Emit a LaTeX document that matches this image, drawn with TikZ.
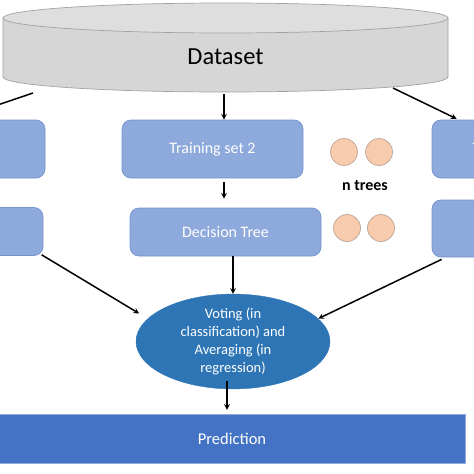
\documentclass[tikz,border=0pt]{standalone}
\usepackage{fontspec}
\setmainfont{Carlito}
\usetikzlibrary{positioning, shapes.geometric}

\definecolor{boxfill}{HTML}{8EA9DB}
\definecolor{boxline}{HTML}{7393CC}
\definecolor{votefill}{HTML}{2E75B6}
\definecolor{predfill}{HTML}{4472C4}
\definecolor{dotfill}{HTML}{F8CBAD}
\definecolor{dotline}{HTML}{B9A696}
\definecolor{cylfill}{HTML}{D6D6D6}
\definecolor{cyltop}{HTML}{DEDEDE}
\definecolor{cylline}{HTML}{9CA3AA}

\begin{document}
\begin{tikzpicture}[
    x=1pt, y=-1pt,
    setbox/.style  = {draw=boxline, fill=boxfill, line width=0.7pt,
                      rounded corners=9pt, text=white,
                      font=\fontsize{16}{18}\selectfont},
    dot/.style     = {circle, draw=dotline, fill=dotfill, line width=0.7pt,
                      minimum size=27pt, inner sep=0pt},
    arr/.style     = {->, >=stealth, line width=1.5pt},
    lbl/.style     = {font=\fontsize{16}{18}\selectfont\bfseries},
]
\useasboundingbox (0,0) rectangle (474,474);
\clip (0,0) rectangle (474,474);

% ============================================================
%  DATASET  -  flat cylinder across the top
% ============================================================
\fill[cylfill, draw=cylline, line width=0.7pt]
    (3,18) -- (3,77) arc[start angle=180, end angle=360,
                         x radius=222.5, y radius=-15]
    -- (448,18) -- cycle;
\filldraw[fill=cyltop, draw=cylline, line width=0.7pt]
    (225.5,18) ellipse[x radius=222.5, y radius=15];
\node[font=\fontsize{24.5}{26}\selectfont] (ds) at (225.5,57) {Dataset};
\coordinate (dsl) at (33,93);
\coordinate (dsb) at (224,94);
\coordinate (dsr) at (393,88);

% ============================================================
%  TRAINING SETS  (row at y=149)
% ============================================================
\node[setbox, minimum width=181pt, minimum height=58pt] (tr1) at (-45.5,149) {};
\node[setbox, minimum width=181pt, minimum height=58pt] (tr2) at (212.5,149) {Training set 2};
\node[setbox, minimum width=168pt, minimum height=58pt] (trn) at (516,149) {Training set n};

% ============================================================
%  DECISION TREES  (row at y=232)
% ============================================================
\node[setbox, minimum width=191pt, minimum height=48pt] (dt1) at (-52.5,231.5) {};
\node[setbox, minimum width=191pt, minimum height=48pt] (dt2) at (225.5,232) {Decision Tree};
\node[setbox, minimum width=191pt, minimum height=57pt] (dtn) at (527.5,228.5) {};

% ============================================================
%  "n trees" dots
% ============================================================
\node[dot] (d1) at (344,152) {};
\node[dot] (d2) at (379,152) {};
\node[lbl] (ntr) at (365,186) {n trees};
\node[dot] (d3) at (347,228) {};
\node[dot] (d4) at (381,228) {};

% ============================================================
%  VOTING  and  PREDICTION
% ============================================================
\node[ellipse, draw=votefill, fill=votefill, text=white, align=center,
      minimum width=194pt, minimum height=87pt, inner sep=0pt,
      font=\fontsize{14.5}{18}\selectfont] (vote) at (233,341.5)
    {Voting (in\\classification) and\\Averaging (in\\regression)};

\node[draw=boxfill, fill=predfill, text=white, minimum width=466pt,
      minimum height=49pt, font=\fontsize{16.5}{18}\selectfont] (pred)
    at (232,438.5) {Prediction};

% ============================================================
%  ARROWS
% ============================================================
\draw[arr] (dsl) -- (tr1.north);
\draw[arr] (dsb) -- (dsb |- tr2.north);
\draw[arr, shorten >=2pt] (dsr) -- (trn.153);

\draw[arr, shorten <=4pt, shorten >=9pt] (tr2.south -| dsb) -- (dsb |- dt2.north);

\draw[arr] (dt2.south -| vote) -- (vote.north);
\draw[arr, shorten <=-2pt, shorten >=10pt] (dt1.south east) -- (vote.165);
\draw[arr] ([xshift=10pt,yshift=-2pt]dtn.south west) -- (vote.15);

\draw[arr] ([xshift=-6pt,yshift=8pt]vote.south) -- ([xshift=-6pt,yshift=4pt]vote.south |- pred.north);

\end{tikzpicture}
\end{document}
